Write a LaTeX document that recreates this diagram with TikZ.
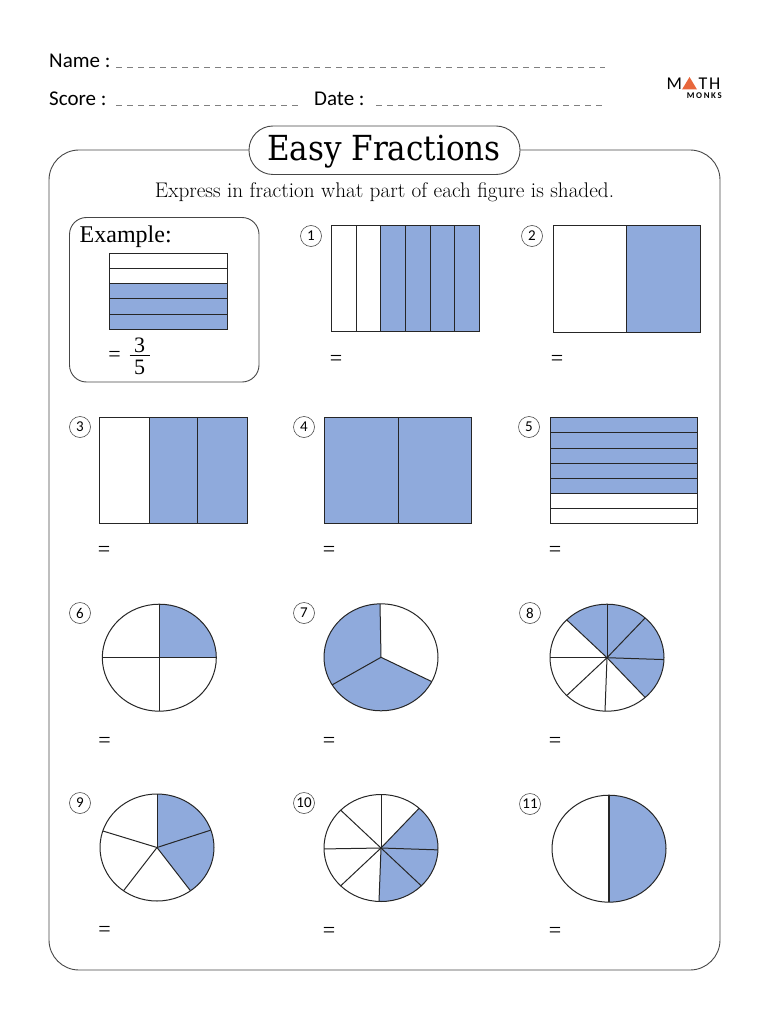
\documentclass[tikz,border=0pt]{standalone}
\usepackage{fontspec}
\setmainfont{Liberation Serif}
\newfontfamily\labelfont{Carlito}
\newfontfamily\leadfont{Latin Modern Roman}
\newfontfamily\titlefont{DejaVu Serif Condensed}
\usepackage{color}
\usetikzlibrary{calc}
\definecolor{shadeblue}{RGB}{143,170,220}
\definecolor{framegray}{RGB}{70,70,70}
\definecolor{logoorange}{RGB}{232,103,60}
\tikzset{
  shaded/.style={fill=shadeblue},
  edge/.style={draw=black!85,line width=1pt},
  dashline/.style={draw=black!50,line width=1pt,dash pattern=on 6pt off 5pt},
  field/.style={font=\labelfont\fontsize{21}{24}\selectfont,anchor=base west,inner sep=0pt},
  logotext/.style={font=\labelfont\fontsize{18}{20}\selectfont,anchor=base west,inner sep=0pt},
  num/.style={circle,draw=black!70,line width=0.6pt,minimum size=21pt,inner sep=0pt,font=\labelfont\fontsize{15}{17}\selectfont},
  eq/.style={font=\fontsize{22}{24}\selectfont,inner sep=0pt,yshift=-2.500pt},
  fracdigit/.style={font=\fontsize{22}{24}\selectfont,inner sep=0pt},
  piebox/.style={shift={#1},x=57pt,y=53.500pt}
}
\begin{document}
\begin{tikzpicture}[x=1pt,y=-1pt]
    \useasboundingbox (0,0) rectangle (768,1024);

    % header
    \node [field] (name) at (49,68) {Name :};
    \node [field] (score) at (49,106) {Score :};
    \node [field] (date) at (314,106) {Date :};
    \draw [dashline] (116,68) -- (605,68);
    \draw [dashline] (116,106) -- (299,106);
    \draw [dashline] (376,106) -- (605,106);

    % logo
    \node [logotext] (logom) at (666.500,89.500) {M};
    \fill [logoorange] (682,89.500) -- (689.500,77) -- (697,89.500) -- cycle;
    \node [logotext] (logot) at (698.500,89.500) {T};
    \node [logotext] (logoh) at (709,89.500) {H};
    \node [font=\labelfont\bfseries\addfontfeature{LetterSpace=19}\fontsize{8.800}{9}\selectfont,anchor=base east,inner sep=0pt] (logomonks) at (722,98.500) {MONKS};

    % frame and title
    \draw [draw=framegray,line width=0.9pt,rounded corners=30pt] (49,150) rectangle (720,970);
    \draw [draw=framegray,fill=white,line width=0.9pt,rounded corners=24pt] (249,126) rectangle (520,174.500);
    \node [font=\titlefont\fontsize{34.500}{38}\selectfont,inner sep=0pt,anchor=base] (title) at (384,161) {Easy Fractions};
    \node [font=\leadfont\fontsize{21.200}{24}\selectfont,inner sep=0pt,anchor=base] (lead) at (384.500,197.500) {Express in fraction what part of each figure is shaded.};

    % example
    \draw [draw=framegray,line width=0.9pt,rounded corners=17pt] (69.500,217.500) rectangle (259,382);
    \node [font=\fontsize{24}{26}\selectfont,anchor=base west,inner sep=0pt] (example) at (79.500,242) {Example:};
    \fill [shaded] (109.500,283) rectangle (227.500,329);
    \draw [edge] (109.500,253) rectangle (227.500,329);
    \draw [edge] (109.500,268) -- (227.500,268);
    \draw [edge] (109.500,283) -- (227.500,283);
    \draw [edge] (109.500,298.500) -- (227.500,298.500);
    \draw [edge] (109.500,314) -- (227.500,314);
    \node [eq] (eq0) at (114.500,354) {=};
    \node [fracdigit] (top0) at (139.500,345.500) {3};
    \node [fracdigit] (bot0) at (139.500,367) {5};
    \draw [line width=0.8pt] (129.500,355.500) -- (150,355.500);

    % 1
    \node [num] (n1) at (311,236) {1};
    \fill [shaded] (380,226) rectangle (479,331);
    \draw [edge] (331,226) rectangle (479,331);
    \foreach \x in {356,380,405,430,454} \draw [edge] (\x,226) -- (\x,331);
    \node [eq] (eq1) at (336,358) {=};

    % 2
    \node [num] (n2) at (532,236) {2};
    \fill [shaded] (626,226) rectangle (700,332);
    \draw [edge] (553,226) rectangle (700,332);
    \draw [edge] (626,226) -- (626,332);
    \node [eq] (eq2) at (557,358) {=};

    % 3
    \node [num] (n3) at (80,427) {3};
    \fill [shaded] (149,417) rectangle (247,523);
    \draw [edge] (99,417) rectangle (247,523);
    \foreach \x in {149,197} \draw [edge] (\x,417) -- (\x,523);
    \node [eq] (eq3) at (104,549) {=};

    % 4
    \node [num] (n4) at (304,427) {4};
    \fill [shaded] (324,417) rectangle (471,523);
    \draw [edge] (324,417) rectangle (471,523);
    \draw [edge] (398,417) -- (398,523);
    \node [eq] (eq4) at (329,549) {=};

    % 5
    \node [num] (n5) at (529,427) {5};
    \fill [shaded] (550,417) rectangle (697,493);
    \draw [edge] (550,417) rectangle (697,523);
    \foreach \y in {432.500,448,463,478,493,508} \draw [edge] (550,\y) -- (697,\y);
    \node [eq] (eq5) at (555,549) {=};

    % 6
    \node [num] (n6) at (80,613) {6};
    \begin{scope}[piebox={(159.300,657.700)}]
        \fill [shaded] (0,0) -- (0:1) arc [start angle=0,end angle=90,radius=1] -- cycle;
        \draw [edge] (0,0) circle [radius=1];
        \foreach \a in {0,90,180,270} \draw [edge] (0,0) -- (\a:1);
    \end{scope}
    \node [eq] (eq6) at (104.700,739.700) {=};

    % 7
    \node [num] (n7) at (304,613) {7};
    \begin{scope}[piebox={(381,657.300)}]
        \fill [shaded] (0,0) -- (91:1) arc [start angle=91,end angle=333,radius=1] -- cycle;
        \draw [edge] (0,0) circle [radius=1];
        \foreach \a in {91,211,333} \draw [edge] (0,0) -- (\a:1);
    \end{scope}
    \node [eq] (eq7) at (329,739.700) {=};

    % 8
    \node [num] (n8) at (530,613) {8};
    \begin{scope}[piebox={(607,657.700)}]
        \fill [shaded] (0,0) -- (-48:1) arc [start angle=-48,end angle=135,radius=1] -- cycle;
        \draw [edge] (0,0) circle [radius=1];
        \foreach \a in {90,48,-2,-48,-92,225,180,135} \draw [edge] (0,0) -- (\a:1);
    \end{scope}
    \node [eq] (eq8) at (555,739.700) {=};

    % 9
    \node [num] (n9) at (80,803) {9};
    \begin{scope}[piebox={(157,847.500)}]
        \fill [shaded] (0,0) -- (-54:1) arc [start angle=-54,end angle=90,radius=1] -- cycle;
        \draw [edge] (0,0) circle [radius=1];
        \foreach \a in {90,19,-54,-126,162} \draw [edge] (0,0) -- (\a:1);
    \end{scope}
    \node [eq] (eq9) at (104.700,929) {=};

    % 10
    \node [num] (n10) at (304,803) {10};
    \begin{scope}[piebox={(381,848)}]
        \fill [shaded] (0,0) -- (-92:1) arc [start angle=-92,end angle=48,radius=1] -- cycle;
        \draw [edge] (0,0) circle [radius=1];
        \foreach \a in {90,48,-2,-45,-92,225,181,135} \draw [edge] (0,0) -- (\a:1);
    \end{scope}
    \node [eq] (eq10) at (329,930) {=};

    % 11
    \node [num] (n11) at (530,804) {11};
    \begin{scope}[piebox={(609,848.700)}]
        \fill [shaded] (0,0) -- (-90:1) arc [start angle=-90,end angle=90,radius=1] -- cycle;
        \draw [edge] (0,0) circle [radius=1];
        \draw [edge,line width=1.500pt] (-90:1) -- (90:1);
    \end{scope}
    \node [eq] (eq11) at (555,930) {=};
\end{tikzpicture}
\end{document}
